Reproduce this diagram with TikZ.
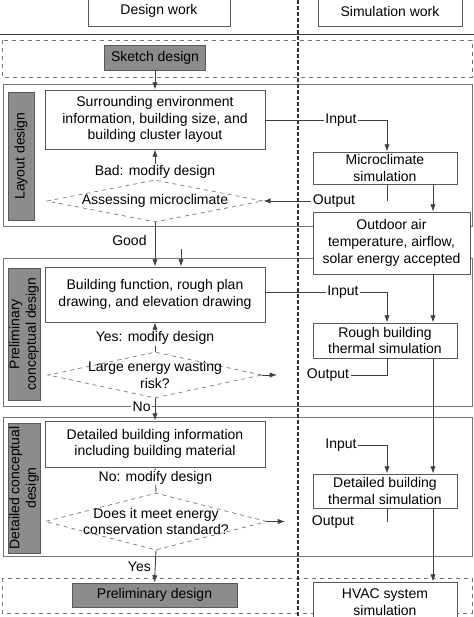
\documentclass[tikz,border=0pt]{standalone}
\usepackage{fontspec}
\setmainfont{Liberation Sans}
\usetikzlibrary{shapes.geometric,arrows.meta}

\begin{document}
\begin{tikzpicture}
[x=0.75pt,y=-0.75pt,
  font=\fontsize{10.5}{12.5}\selectfont,
  lineDecorate/.style={draw=black!75,line width=0.65pt},
  arrowDecorate/.style={lineDecorate,-{Latex[length=5.5pt,width=4pt]}},
  boxDecorate/.style 2 args={draw=black!65,line width=0.6pt,fill=white,align=center,
    inner sep=0pt,minimum width=#1*0.75pt,minimum height=#2*0.75pt},
  greyDecorate/.style 2 args={boxDecorate={#1}{#2},fill=black!45},
  decideDecorate/.style 2 args={shape=diamond,draw=black!55,dashed,line width=0.5pt,
    inner sep=0pt,minimum width=#1*0.75pt,minimum height=#2*0.75pt},
  sectionDecorate/.style={draw=black!55,line width=0.6pt},
  textDecorate/.style={align=center,inner sep=1pt},
  labelDecorate/.style={fill=white,inner sep=1pt}]
\clip (0,0) rectangle (474,617);
%% sections
\foreach \x/\y/\xx/\yy in {3/84/472/226, 3/258/472/406, 3/417/472/556}
{
  \draw[sectionDecorate] (\x,\y) rectangle (\xx,\yy);
}
\foreach \x/\y/\xx/\yy in {2/40/472/77, 2/578/472/613}
{
  \draw[sectionDecorate,dashed] (\x,\y) rectangle (\xx,\yy);
}
\draw[lineDecorate] (0,34) -- (474,34);
\draw[black!80,line width=1.4pt,dash pattern=on 3pt off 1.5pt] (298,0) -- (298,617);
%% lanes on the simulation side
\coordinate (laneIn) at (387,0);
\coordinate (laneOut) at (433,0);
%% header
\node (designHead) at (159,11) [boxDecorate={142}{30}] {Design work};
\node (simHead) at (390,11) [boxDecorate={144}{30}] {Simulation work};
%% stage labels
\foreach \nodename/\x/\y/\len/\wid/\lbl in {
  layoutLabel/21/156/128/26/{Layout design},
  prelimLabel/24/334/132/32/{Preliminary\\conceptual design},
  detailLabel/24/488/130/32/{Detailed conceptual\\design}}
{
  \node (\nodename) at (\x,\y) [greyDecorate={\len}{\wid},rotate=90] {\lbl};
}
%% design work
\node (sketch) at (155,57.5) [greyDecorate={101}{25}] {Sketch design};
\node (surround) at (155,119.5) [boxDecorate={220}{59}]
  {Surrounding environment\\information, building size, and\\building cluster layout};
\node (assess) at (155,201) [decideDecorate={216}{42}] {};
\node (assessText) at (assess) [textDecorate] {Assessing microclimate};
\node (building) at (155,294.5) [boxDecorate={220}{55}]
  {Building function, rough plan\\drawing, and elevation drawing};
\node (risk) at (155,375) [decideDecorate={214}{46}] {};
\node (riskText) at (risk) [textDecorate] {Large energy wasting\\risk?};
\node (info) at (155,444) [boxDecorate={220}{46}]
  {Detailed building information\\including building material};
\node (meet) at (156,521.5) [decideDecorate={222}{57}] {};
\node (meetText) at (meet) [textDecorate] {Does it meet energy\\conservation standard?};
\node (prelim) at (154.5,595) [greyDecorate={165}{24}] {Preliminary design};
%% simulation work
\node (micro) at (385,168) [boxDecorate={144}{32}] {Microclimate\\simulation};
\node (outdoor) at (391.5,243) [boxDecorate={157}{62}]
  {Outdoor air\\temperature, airflow,\\solar energy accepted};
\node (rough) at (385,340.5) [boxDecorate={144}{35}] {Rough building\\thermal simulation};
\node (thermal) at (385,491) [boxDecorate={144}{34}] {Detailed building\\thermal simulation};
\node (hvac) at (385,602) [boxDecorate={144}{40}] {HVAC system\\simulation};
%% input and output labels
\node (input1) at (341,120) [labelDecorate] {Input};
\node (output1) at (334,201) [labelDecorate] {Output};
\node (input2) at (343,292) [labelDecorate] {Input};
\node (output2) at (328,375) [labelDecorate] {Output};
\node (input3) at (341,445) [labelDecorate] {Input};
\node (output3) at (333,522) [labelDecorate] {Output};
\coordinate (feed) at (181,249);
\coordinate (riskOut) at (277,375);
\coordinate (meetOut) at (285,521.5);
%% edges
\draw[arrowDecorate] (sketch) -- (surround);
\draw[lineDecorate] (surround.east |- input1) -- (input1);
\draw[arrowDecorate] (input1.east) -| (micro.north -| laneIn);
\draw[arrowDecorate] (assess.north) -- (surround.south)
  node[pos=0.25,labelDecorate] (badText) {Bad: modify design};
\draw[lineDecorate] (micro.south -| laneIn) -- (output1 -| laneIn);
\draw[arrowDecorate] (output1) -- (assess.east);
\draw[arrowDecorate] (micro.south -| laneOut) -- (outdoor.north -| laneOut);
\draw[arrowDecorate] (assess.south) -- (building.north)
  node[pos=0.42,left=6pt,inner sep=0pt] (goodText) {Good};
\draw[arrowDecorate] (feed) -- (feed |- building.north);
\draw[lineDecorate] (building.east |- input2) -- (input2);
\draw[arrowDecorate] (input2.east) -| (rough.north -| laneIn);
\draw[arrowDecorate] (outdoor.south -| laneOut) -- (rough.north -| laneOut);
\draw[lineDecorate] (rough.south -| laneIn) |- (output2.east);
\draw[arrowDecorate] (risk.north) -- (building.south)
  node[pos=0.47,labelDecorate] (yesText) {Yes: modify design};
\draw[arrowDecorate] (risk.east) -- (riskOut);
\draw[arrowDecorate] (risk.south) -- (info.north)
  node[pos=0.4,left=2pt,labelDecorate] (noText) {No};
\draw[arrowDecorate] (input3.east) -| (thermal.north -| laneIn);
\draw[arrowDecorate] (rough.south -| laneOut) -- (thermal.north -| laneOut);
\draw[arrowDecorate] (meet.north) -- (info.south)
  node[pos=0.6,labelDecorate] (modText) {No: modify design};
\draw[arrowDecorate] (meet.east) -- (meetOut);
\draw[lineDecorate] (thermal.south -| laneIn) -- (output3 -| laneIn);
\draw[arrowDecorate] (meet.south) -- (prelim.north)
  node[pos=0.5,left=2pt,labelDecorate] (yesEnd) {Yes};
\draw[arrowDecorate] (thermal.south -| laneOut) -- (hvac.north -| laneOut);
\end{tikzpicture}
\end{document}
